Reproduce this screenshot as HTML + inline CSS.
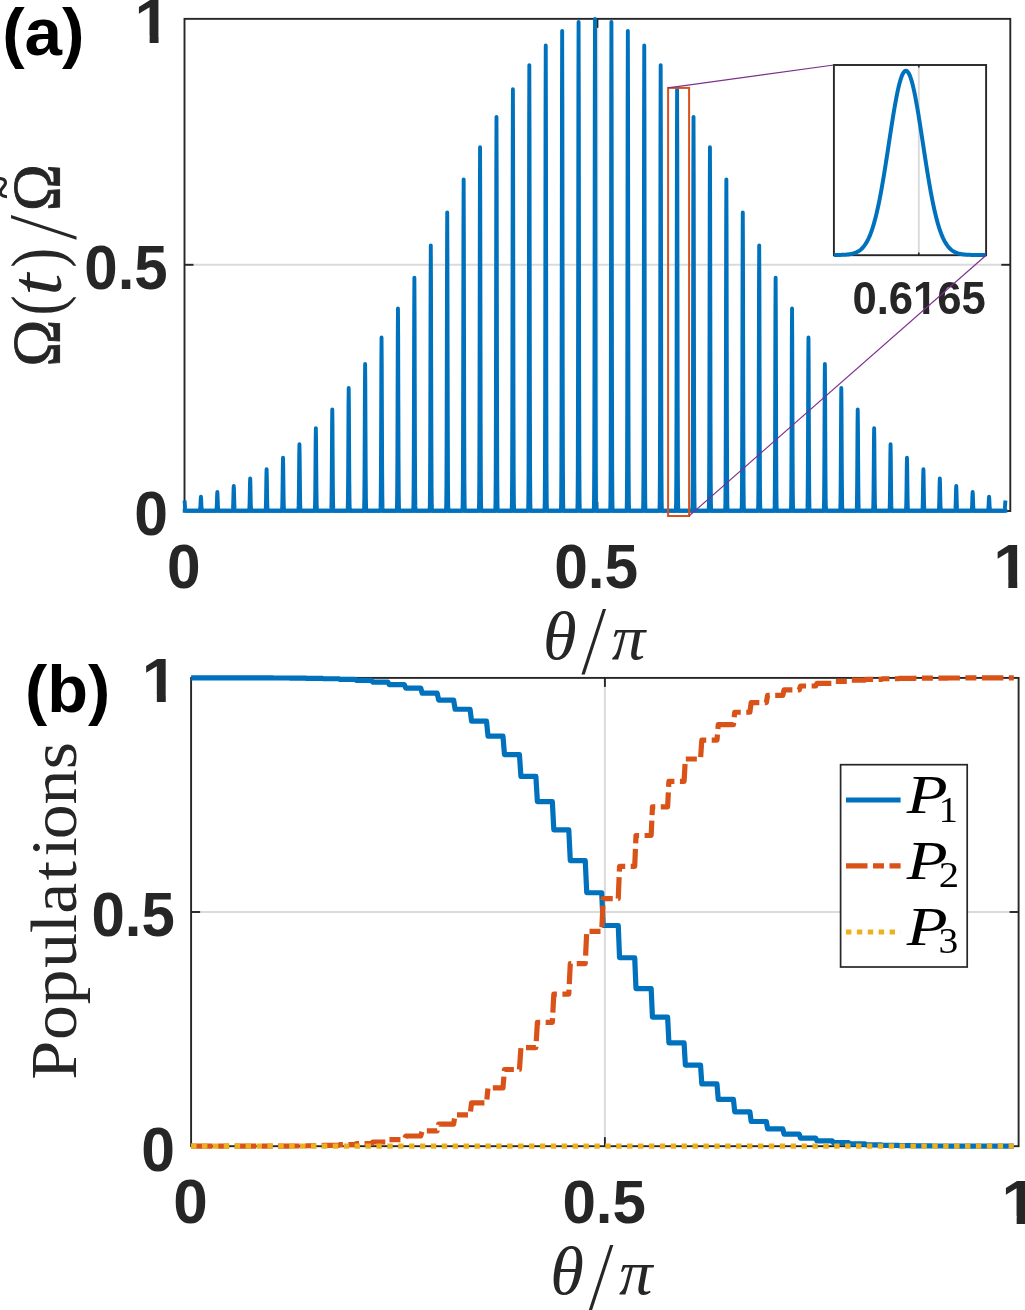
<!DOCTYPE html>
<html><head><meta charset="utf-8"><title>Figure</title>
<style>html,body{margin:0;padding:0;background:#fff}body{width:1025px;height:1310px;position:relative;overflow:hidden}</style>
</head><body>
<svg width="1025" height="1310" viewBox="0 0 1025 1310" style="position:absolute;left:0;top:0">
<title>Pulse train and populations</title>
<desc>(a) Ω(t)/Ω̃ versus θ/π with inset at 0.6165. (b) Populations P1, P2, P3 versus θ/π.</desc>
<rect width="1025" height="1310" fill="#fff"/>
<g stroke="#DADADA" stroke-width="1.9"><line x1="184.5" y1="264.8" x2="1010.3" y2="264.8"/><line x1="597.4" y1="18.85" x2="597.4" y2="511.0"/></g>
<rect x="184.5" y="18.85" width="825.80" height="492.15" fill="none" stroke="#262626" stroke-width="1.9"/>
<g stroke="#262626" stroke-width="1.9">
<line x1="184.5" y1="264.8" x2="193.5" y2="264.8"/><line x1="1010.3" y1="264.8" x2="1001.3" y2="264.8"/>
<line x1="597.4" y1="18.85" x2="597.4" y2="27.85"/><line x1="597.4" y1="511.0" x2="597.4" y2="502.0"/>
</g>
<polyline points="184.50,500.40 184.70,501.89 184.90,505.19 185.10,508.21 185.30,509.92 185.50,510.58 185.70,510.76 185.90,510.79 186.10,510.80 186.30,510.80 186.50,510.80 186.70,510.80 186.90,510.80 198.52,510.80 198.72,510.80 198.92,510.80 199.12,510.80 199.32,510.80 199.52,510.79 199.72,510.75 199.92,510.50 200.12,509.61 200.32,507.29 200.52,503.21 200.72,498.74 200.92,496.73 201.12,498.74 201.32,503.21 201.52,507.29 201.72,509.61 201.92,510.50 202.12,510.75 202.32,510.79 202.52,510.80 202.72,510.80 202.92,510.80 203.12,510.80 203.32,510.80 214.94,510.80 215.14,510.80 215.34,510.80 215.54,510.80 215.74,510.80 215.94,510.79 216.14,510.73 216.34,510.40 216.54,509.21 216.74,506.11 216.94,500.65 217.14,494.68 217.34,491.99 217.54,494.68 217.74,500.65 217.94,506.11 218.14,509.21 218.34,510.40 218.54,510.73 218.74,510.79 218.94,510.80 219.14,510.80 219.34,510.80 219.54,510.80 219.74,510.80 231.36,510.80 231.56,510.80 231.76,510.80 231.96,510.80 232.16,510.80 232.36,510.79 232.56,510.70 232.76,510.28 232.96,508.70 233.16,504.61 233.36,497.41 233.56,489.52 233.76,485.97 233.96,489.52 234.16,497.41 234.36,504.61 234.56,508.70 234.76,510.28 234.96,510.70 235.16,510.79 235.36,510.80 235.56,510.80 235.76,510.80 235.96,510.80 236.16,510.80 247.78,510.80 247.98,510.80 248.18,510.80 248.38,510.80 248.58,510.80 248.78,510.78 248.98,510.67 249.18,510.12 249.38,508.06 249.58,502.73 249.78,493.34 249.98,483.06 250.18,478.43 250.38,483.06 250.58,493.34 250.78,502.73 250.98,508.06 251.18,510.12 251.38,510.67 251.58,510.78 251.78,510.80 251.98,510.80 252.18,510.80 252.38,510.80 252.58,510.80 264.20,510.80 264.40,510.80 264.60,510.80 264.80,510.80 265.00,510.80 265.20,510.78 265.40,510.64 265.60,509.92 265.80,507.27 266.00,500.40 266.20,488.31 266.40,475.07 266.60,469.11 266.80,475.07 267.00,488.31 267.20,500.40 267.40,507.27 267.60,509.92 267.80,510.64 268.00,510.78 268.20,510.80 268.40,510.80 268.60,510.80 268.80,510.80 269.00,510.80 280.62,510.80 280.82,510.80 281.02,510.80 281.22,510.80 281.42,510.80 281.62,510.77 281.82,510.59 282.02,509.68 282.22,506.31 282.42,497.58 282.62,482.19 282.82,465.35 283.02,457.77 283.22,465.35 283.42,482.19 283.62,497.58 283.82,506.31 284.02,509.68 284.22,510.59 284.42,510.77 284.62,510.80 284.82,510.80 285.02,510.80 285.22,510.80 285.42,510.80 297.04,510.80 297.24,510.80 297.44,510.80 297.64,510.80 297.84,510.80 298.04,510.77 298.24,510.54 298.44,509.39 298.64,505.16 298.84,494.18 299.04,474.86 299.24,453.69 299.44,444.17 299.64,453.69 299.84,474.86 300.04,494.18 300.24,505.16 300.44,509.39 300.64,510.54 300.84,510.77 301.04,510.80 301.24,510.80 301.44,510.80 301.64,510.80 301.84,510.80 313.46,510.80 313.66,510.80 313.86,510.80 314.06,510.80 314.26,510.80 314.46,510.76 314.66,510.48 314.86,509.05 315.06,503.80 315.26,490.18 315.46,466.19 315.66,439.93 315.86,428.10 316.06,439.93 316.26,466.19 316.46,490.18 316.66,503.80 316.86,509.05 317.06,510.48 317.26,510.76 317.46,510.80 317.66,510.80 317.86,510.80 318.06,510.80 318.26,510.80 329.88,510.80 330.08,510.80 330.28,510.80 330.48,510.80 330.68,510.79 330.88,510.75 331.08,510.41 331.28,508.66 331.48,502.22 331.68,485.52 331.88,456.12 332.08,423.93 332.28,409.43 332.48,423.93 332.68,456.12 332.88,485.52 333.08,502.22 333.28,508.66 333.48,510.41 333.68,510.75 333.88,510.79 334.08,510.80 334.28,510.80 334.48,510.80 334.68,510.80 346.30,510.80 346.50,510.80 346.70,510.80 346.90,510.80 347.10,510.79 347.30,510.74 347.50,510.33 347.70,508.21 347.90,500.41 348.10,480.19 348.30,444.59 348.50,405.61 348.70,388.06 348.90,405.61 349.10,444.59 349.30,480.19 349.50,500.41 349.70,508.21 349.90,510.33 350.10,510.74 350.30,510.79 350.50,510.80 350.70,510.80 350.90,510.80 351.10,510.80 362.72,510.80 362.92,510.80 363.12,510.80 363.32,510.80 363.52,510.79 363.72,510.72 363.92,510.23 364.12,507.70 364.32,498.37 364.52,474.20 364.72,431.62 364.92,385.00 365.12,364.01 365.32,385.00 365.52,431.62 365.72,474.20 365.92,498.37 366.12,507.70 366.32,510.23 366.52,510.72 366.72,510.79 366.92,510.80 367.12,510.80 367.32,510.80 367.52,510.80 379.14,510.80 379.34,510.80 379.54,510.80 379.74,510.80 379.94,510.79 380.14,510.71 380.34,510.13 380.54,507.14 380.74,496.12 380.94,467.56 381.14,417.27 381.34,362.20 381.54,337.40 381.74,362.20 381.94,417.27 382.14,467.56 382.34,496.12 382.54,507.14 382.74,510.13 382.94,510.71 383.14,510.79 383.34,510.80 383.54,510.80 383.74,510.80 383.94,510.80 395.56,510.80 395.76,510.80 395.96,510.80 396.16,510.80 396.36,510.79 396.56,510.69 396.76,510.02 396.96,506.53 397.16,493.67 397.36,460.35 397.56,401.67 397.76,337.41 397.96,308.48 398.16,337.41 398.36,401.67 398.56,460.35 398.76,493.67 398.96,506.53 399.16,510.02 399.36,510.69 399.56,510.79 399.76,510.80 399.96,510.80 400.16,510.80 400.36,510.80 411.98,510.80 412.18,510.80 412.38,510.80 412.58,510.80 412.78,510.79 412.98,510.68 413.18,509.90 413.38,505.88 413.58,491.06 413.78,452.66 413.98,385.03 414.18,310.97 414.38,277.63 414.58,310.97 414.78,385.03 414.98,452.66 415.18,491.06 415.38,505.88 415.58,509.90 415.78,510.68 415.98,510.79 416.18,510.80 416.38,510.80 416.58,510.80 416.78,510.80 428.40,510.80 428.60,510.80 428.80,510.80 429.00,510.80 429.20,510.79 429.40,510.66 429.60,509.77 429.80,505.20 430.00,488.33 430.20,444.61 430.40,367.63 430.60,283.33 430.80,245.37 431.00,283.33 431.20,367.63 431.40,444.61 431.60,488.33 431.80,505.20 432.00,509.77 432.20,510.66 432.40,510.79 432.60,510.80 432.80,510.80 433.00,510.80 433.20,510.80 444.82,510.80 445.02,510.80 445.22,510.80 445.42,510.80 445.62,510.78 445.82,510.64 446.02,509.65 446.22,504.50 446.42,485.53 446.62,436.38 446.82,349.82 447.02,255.03 447.22,212.35 447.42,255.03 447.62,349.82 447.82,436.38 448.02,485.53 448.22,504.50 448.42,509.65 448.62,510.64 448.82,510.78 449.02,510.80 449.22,510.80 449.42,510.80 449.62,510.80 461.24,510.80 461.44,510.80 461.64,510.80 461.84,510.80 462.04,510.78 462.24,510.63 462.44,509.52 462.64,503.80 462.84,482.74 463.04,428.15 463.24,332.01 463.44,226.75 463.64,179.35 463.84,226.75 464.04,332.01 464.24,428.15 464.44,482.74 464.64,503.80 464.84,509.52 465.04,510.63 465.24,510.78 465.44,510.80 465.64,510.80 465.84,510.80 466.04,510.80 477.66,510.80 477.86,510.80 478.06,510.80 478.26,510.80 478.46,510.78 478.66,510.61 478.86,509.39 479.06,503.12 479.26,480.02 479.46,420.14 479.66,314.68 479.86,199.20 480.06,147.21 480.26,199.20 480.46,314.68 480.66,420.14 480.86,480.02 481.06,503.12 481.26,509.39 481.46,510.61 481.66,510.78 481.86,510.80 482.06,510.80 482.26,510.80 482.46,510.80 494.08,510.80 494.28,510.80 494.48,510.80 494.68,510.80 494.88,510.78 495.08,510.60 495.28,509.28 495.48,502.48 495.68,477.45 495.88,412.57 496.08,298.30 496.28,173.18 496.48,116.84 496.68,173.18 496.88,298.30 497.08,412.57 497.28,477.45 497.48,502.48 497.68,509.28 497.88,510.60 498.08,510.78 498.28,510.80 498.48,510.80 498.68,510.80 498.88,510.80 510.50,510.80 510.70,510.80 510.90,510.80 511.10,510.80 511.30,510.78 511.50,510.58 511.70,509.17 511.90,501.90 512.10,475.11 512.30,405.67 512.50,283.37 512.70,149.47 512.90,89.17 513.10,149.47 513.30,283.37 513.50,405.67 513.70,475.11 513.90,501.90 514.10,509.17 514.30,510.58 514.50,510.78 514.70,510.80 514.90,510.80 515.10,510.80 515.30,510.80 526.92,510.80 527.12,510.80 527.32,510.80 527.52,510.80 527.72,510.78 527.92,510.57 528.12,509.08 528.32,501.39 528.52,473.07 528.72,399.66 528.92,270.38 529.12,128.83 529.32,65.10 529.52,128.83 529.72,270.38 529.92,399.66 530.12,473.07 530.32,501.39 530.52,509.08 530.72,510.57 530.92,510.78 531.12,510.80 531.32,510.80 531.52,510.80 531.72,510.80 543.34,510.80 543.54,510.80 543.74,510.80 543.94,510.80 544.14,510.78 544.34,510.56 544.54,509.00 544.74,500.98 544.94,471.40 545.14,394.76 545.34,259.77 545.54,111.97 545.74,45.42 545.94,111.97 546.14,259.77 546.34,394.76 546.54,471.40 546.74,500.98 546.94,509.00 547.14,510.56 547.34,510.78 547.54,510.80 547.74,510.80 547.94,510.80 548.14,510.80 559.76,510.80 559.96,510.80 560.16,510.80 560.36,510.80 560.56,510.78 560.76,510.55 560.96,508.94 561.16,500.67 561.36,470.17 561.56,391.12 561.76,251.91 561.96,99.48 562.16,30.84 562.36,99.48 562.56,251.91 562.76,391.12 562.96,470.17 563.16,500.67 563.36,508.94 563.56,510.55 563.76,510.78 563.96,510.80 564.16,510.80 564.36,510.80 564.56,510.80 576.18,510.80 576.38,510.80 576.58,510.80 576.78,510.80 576.98,510.77 577.18,510.55 577.38,508.91 577.58,500.48 577.78,469.41 577.98,388.89 578.18,247.07 578.38,91.79 578.58,21.88 578.78,91.79 578.98,247.07 579.18,388.89 579.38,469.41 579.58,500.48 579.78,508.91 579.98,510.55 580.18,510.77 580.38,510.80 580.58,510.80 580.78,510.80 580.98,510.80 592.60,510.80 592.80,510.80 593.00,510.80 593.20,510.80 593.40,510.77 593.60,510.54 593.80,508.90 594.00,500.42 594.20,469.15 594.40,388.13 594.60,245.44 594.80,89.20 595.00,18.85 595.20,89.20 595.40,245.44 595.60,388.13 595.80,469.15 596.00,500.42 596.20,508.90 596.40,510.54 596.60,510.77 596.80,510.80 597.00,510.80 597.20,510.80 597.40,510.80 609.02,510.80 609.22,510.80 609.42,510.80 609.62,510.80 609.82,510.77 610.02,510.55 610.22,508.91 610.42,500.48 610.62,469.41 610.82,388.89 611.02,247.07 611.22,91.79 611.42,21.88 611.62,91.79 611.82,247.07 612.02,388.89 612.22,469.41 612.42,500.48 612.62,508.91 612.82,510.55 613.02,510.77 613.22,510.80 613.42,510.80 613.62,510.80 613.82,510.80 625.44,510.80 625.64,510.80 625.84,510.80 626.04,510.80 626.24,510.78 626.44,510.55 626.64,508.94 626.84,500.67 627.04,470.17 627.24,391.12 627.44,251.91 627.64,99.48 627.84,30.84 628.04,99.48 628.24,251.91 628.44,391.12 628.64,470.17 628.84,500.67 629.04,508.94 629.24,510.55 629.44,510.78 629.64,510.80 629.84,510.80 630.04,510.80 630.24,510.80 641.86,510.80 642.06,510.80 642.26,510.80 642.46,510.80 642.66,510.78 642.86,510.56 643.06,509.00 643.26,500.98 643.46,471.40 643.66,394.76 643.86,259.77 644.06,111.97 644.26,45.42 644.46,111.97 644.66,259.77 644.86,394.76 645.06,471.40 645.26,500.98 645.46,509.00 645.66,510.56 645.86,510.78 646.06,510.80 646.26,510.80 646.46,510.80 646.66,510.80 658.28,510.80 658.48,510.80 658.68,510.80 658.88,510.80 659.08,510.78 659.28,510.57 659.48,509.08 659.68,501.39 659.88,473.07 660.08,399.66 660.28,270.38 660.48,128.83 660.68,65.10 660.88,128.83 661.08,270.38 661.28,399.66 661.48,473.07 661.68,501.39 661.88,509.08 662.08,510.57 662.28,510.78 662.48,510.80 662.68,510.80 662.88,510.80 663.08,510.80 674.70,510.80 674.90,510.80 675.10,510.80 675.30,510.80 675.50,510.78 675.70,510.58 675.90,509.17 676.10,501.90 676.30,475.11 676.50,405.67 676.70,283.37 676.90,149.47 677.10,89.17 677.30,149.47 677.50,283.37 677.70,405.67 677.90,475.11 678.10,501.90 678.30,509.17 678.50,510.58 678.70,510.78 678.90,510.80 679.10,510.80 679.30,510.80 679.50,510.80 691.12,510.80 691.32,510.80 691.52,510.80 691.72,510.80 691.92,510.78 692.12,510.60 692.32,509.28 692.52,502.48 692.72,477.45 692.92,412.57 693.12,298.30 693.32,173.18 693.52,116.84 693.72,173.18 693.92,298.30 694.12,412.57 694.32,477.45 694.52,502.48 694.72,509.28 694.92,510.60 695.12,510.78 695.32,510.80 695.52,510.80 695.72,510.80 695.92,510.80 707.54,510.80 707.74,510.80 707.94,510.80 708.14,510.80 708.34,510.78 708.54,510.61 708.74,509.39 708.94,503.12 709.14,480.02 709.34,420.14 709.54,314.68 709.74,199.20 709.94,147.21 710.14,199.20 710.34,314.68 710.54,420.14 710.74,480.02 710.94,503.12 711.14,509.39 711.34,510.61 711.54,510.78 711.74,510.80 711.94,510.80 712.14,510.80 712.34,510.80 723.96,510.80 724.16,510.80 724.36,510.80 724.56,510.80 724.76,510.78 724.96,510.63 725.16,509.52 725.36,503.80 725.56,482.74 725.76,428.15 725.96,332.01 726.16,226.75 726.36,179.35 726.56,226.75 726.76,332.01 726.96,428.15 727.16,482.74 727.36,503.80 727.56,509.52 727.76,510.63 727.96,510.78 728.16,510.80 728.36,510.80 728.56,510.80 728.76,510.80 740.38,510.80 740.58,510.80 740.78,510.80 740.98,510.80 741.18,510.78 741.38,510.64 741.58,509.65 741.78,504.50 741.98,485.53 742.18,436.38 742.38,349.82 742.58,255.03 742.78,212.35 742.98,255.03 743.18,349.82 743.38,436.38 743.58,485.53 743.78,504.50 743.98,509.65 744.18,510.64 744.38,510.78 744.58,510.80 744.78,510.80 744.98,510.80 745.18,510.80 756.80,510.80 757.00,510.80 757.20,510.80 757.40,510.80 757.60,510.79 757.80,510.66 758.00,509.77 758.20,505.20 758.40,488.33 758.60,444.61 758.80,367.63 759.00,283.33 759.20,245.37 759.40,283.33 759.60,367.63 759.80,444.61 760.00,488.33 760.20,505.20 760.40,509.77 760.60,510.66 760.80,510.79 761.00,510.80 761.20,510.80 761.40,510.80 761.60,510.80 773.22,510.80 773.42,510.80 773.62,510.80 773.82,510.80 774.02,510.79 774.22,510.68 774.42,509.90 774.62,505.88 774.82,491.06 775.02,452.66 775.22,385.03 775.42,310.97 775.62,277.63 775.82,310.97 776.02,385.03 776.22,452.66 776.42,491.06 776.62,505.88 776.82,509.90 777.02,510.68 777.22,510.79 777.42,510.80 777.62,510.80 777.82,510.80 778.02,510.80 789.64,510.80 789.84,510.80 790.04,510.80 790.24,510.80 790.44,510.79 790.64,510.69 790.84,510.02 791.04,506.53 791.24,493.67 791.44,460.35 791.64,401.67 791.84,337.41 792.04,308.48 792.24,337.41 792.44,401.67 792.64,460.35 792.84,493.67 793.04,506.53 793.24,510.02 793.44,510.69 793.64,510.79 793.84,510.80 794.04,510.80 794.24,510.80 794.44,510.80 806.06,510.80 806.26,510.80 806.46,510.80 806.66,510.80 806.86,510.79 807.06,510.71 807.26,510.13 807.46,507.14 807.66,496.12 807.86,467.56 808.06,417.27 808.26,362.20 808.46,337.40 808.66,362.20 808.86,417.27 809.06,467.56 809.26,496.12 809.46,507.14 809.66,510.13 809.86,510.71 810.06,510.79 810.26,510.80 810.46,510.80 810.66,510.80 810.86,510.80 822.48,510.80 822.68,510.80 822.88,510.80 823.08,510.80 823.28,510.79 823.48,510.72 823.68,510.23 823.88,507.70 824.08,498.37 824.28,474.20 824.48,431.62 824.68,385.00 824.88,364.01 825.08,385.00 825.28,431.62 825.48,474.20 825.68,498.37 825.88,507.70 826.08,510.23 826.28,510.72 826.48,510.79 826.68,510.80 826.88,510.80 827.08,510.80 827.28,510.80 838.90,510.80 839.10,510.80 839.30,510.80 839.50,510.80 839.70,510.79 839.90,510.74 840.10,510.33 840.30,508.21 840.50,500.41 840.70,480.19 840.90,444.59 841.10,405.61 841.30,388.06 841.50,405.61 841.70,444.59 841.90,480.19 842.10,500.41 842.30,508.21 842.50,510.33 842.70,510.74 842.90,510.79 843.10,510.80 843.30,510.80 843.50,510.80 843.70,510.80 855.32,510.80 855.52,510.80 855.72,510.80 855.92,510.80 856.12,510.79 856.32,510.75 856.52,510.41 856.72,508.66 856.92,502.22 857.12,485.52 857.32,456.12 857.52,423.93 857.72,409.43 857.92,423.93 858.12,456.12 858.32,485.52 858.52,502.22 858.72,508.66 858.92,510.41 859.12,510.75 859.32,510.79 859.52,510.80 859.72,510.80 859.92,510.80 860.12,510.80 871.74,510.80 871.94,510.80 872.14,510.80 872.34,510.80 872.54,510.80 872.74,510.76 872.94,510.48 873.14,509.05 873.34,503.80 873.54,490.18 873.74,466.19 873.94,439.93 874.14,428.10 874.34,439.93 874.54,466.19 874.74,490.18 874.94,503.80 875.14,509.05 875.34,510.48 875.54,510.76 875.74,510.80 875.94,510.80 876.14,510.80 876.34,510.80 876.54,510.80 888.16,510.80 888.36,510.80 888.56,510.80 888.76,510.80 888.96,510.80 889.16,510.77 889.36,510.54 889.56,509.39 889.76,505.16 889.96,494.18 890.16,474.86 890.36,453.69 890.56,444.17 890.76,453.69 890.96,474.86 891.16,494.18 891.36,505.16 891.56,509.39 891.76,510.54 891.96,510.77 892.16,510.80 892.36,510.80 892.56,510.80 892.76,510.80 892.96,510.80 904.58,510.80 904.78,510.80 904.98,510.80 905.18,510.80 905.38,510.80 905.58,510.77 905.78,510.59 905.98,509.68 906.18,506.31 906.38,497.58 906.58,482.19 906.78,465.35 906.98,457.77 907.18,465.35 907.38,482.19 907.58,497.58 907.78,506.31 907.98,509.68 908.18,510.59 908.38,510.77 908.58,510.80 908.78,510.80 908.98,510.80 909.18,510.80 909.38,510.80 921.00,510.80 921.20,510.80 921.40,510.80 921.60,510.80 921.80,510.80 922.00,510.78 922.20,510.64 922.40,509.92 922.60,507.27 922.80,500.40 923.00,488.31 923.20,475.07 923.40,469.11 923.60,475.07 923.80,488.31 924.00,500.40 924.20,507.27 924.40,509.92 924.60,510.64 924.80,510.78 925.00,510.80 925.20,510.80 925.40,510.80 925.60,510.80 925.80,510.80 937.42,510.80 937.62,510.80 937.82,510.80 938.02,510.80 938.22,510.80 938.42,510.78 938.62,510.67 938.82,510.12 939.02,508.06 939.22,502.73 939.42,493.34 939.62,483.06 939.82,478.43 940.02,483.06 940.22,493.34 940.42,502.73 940.62,508.06 940.82,510.12 941.02,510.67 941.22,510.78 941.42,510.80 941.62,510.80 941.82,510.80 942.02,510.80 942.22,510.80 953.84,510.80 954.04,510.80 954.24,510.80 954.44,510.80 954.64,510.80 954.84,510.79 955.04,510.70 955.24,510.28 955.44,508.70 955.64,504.61 955.84,497.41 956.04,489.52 956.24,485.97 956.44,489.52 956.64,497.41 956.84,504.61 957.04,508.70 957.24,510.28 957.44,510.70 957.64,510.79 957.84,510.80 958.04,510.80 958.24,510.80 958.44,510.80 958.64,510.80 970.26,510.80 970.46,510.80 970.66,510.80 970.86,510.80 971.06,510.80 971.26,510.79 971.46,510.73 971.66,510.40 971.86,509.21 972.06,506.11 972.26,500.65 972.46,494.68 972.66,491.99 972.86,494.68 973.06,500.65 973.26,506.11 973.46,509.21 973.66,510.40 973.86,510.73 974.06,510.79 974.26,510.80 974.46,510.80 974.66,510.80 974.86,510.80 975.06,510.80 986.68,510.80 986.88,510.80 987.08,510.80 987.28,510.80 987.48,510.80 987.68,510.79 987.88,510.75 988.08,510.50 988.28,509.61 988.48,507.29 988.68,503.21 988.88,498.74 989.08,496.73 989.28,498.74 989.48,503.21 989.68,507.29 989.88,509.61 990.08,510.50 990.28,510.75 990.48,510.79 990.68,510.80 990.88,510.80 991.08,510.80 991.28,510.80 991.48,510.80 1003.10,510.80 1003.30,510.80 1003.50,510.80 1003.70,510.80 1003.90,510.80 1004.10,510.79 1004.30,510.76 1004.50,510.58 1004.70,509.92 1004.90,508.21 1005.10,505.19 1005.30,501.89 1005.50,500.40" fill="none" stroke="#0072BD" stroke-width="3.9" stroke-linejoin="round"/>
<line x1="182.75" y1="510.8" x2="1007.25" y2="510.8" stroke="#0072BD" stroke-width="3.9"/>
<rect x="668.1" y="87.9" width="21.0" height="428.1" fill="none" stroke="#D95319" stroke-width="2"/>
<rect x="833.9" y="65.0" width="152.20" height="190.20" fill="#fff"/>
<line x1="918.8" y1="65.0" x2="918.8" y2="255.2" stroke="#DADADA" stroke-width="1.9"/>
<rect x="833.9" y="65.0" width="152.20" height="190.20" fill="none" stroke="#262626" stroke-width="1.9"/>
<g stroke="#262626" stroke-width="1.6"><line x1="918.8" y1="255.2" x2="918.8" y2="252.6"/><line x1="918.8" y1="65.0" x2="918.8" y2="67.6"/></g>
<polyline points="833.90,254.98 834.40,254.97 834.90,254.97 835.40,254.97 835.90,254.96 836.40,254.96 836.90,254.95 837.40,254.95 837.90,254.94 838.40,254.93 838.90,254.92 839.40,254.91 839.90,254.90 840.40,254.89 840.90,254.88 841.40,254.86 841.90,254.85 842.40,254.83 842.90,254.81 843.40,254.79 843.90,254.76 844.40,254.73 844.90,254.71 845.40,254.67 845.90,254.64 846.40,254.60 846.90,254.55 847.40,254.51 847.90,254.45 848.40,254.40 848.90,254.33 849.40,254.26 849.90,254.19 850.40,254.11 850.90,254.02 851.40,253.92 851.90,253.81 852.40,253.70 852.90,253.57 853.40,253.44 853.90,253.29 854.40,253.13 854.90,252.95 855.40,252.77 855.90,252.56 856.40,252.34 856.90,252.11 857.40,251.85 857.90,251.58 858.40,251.28 858.90,250.97 859.40,250.63 859.90,250.26 860.40,249.87 860.90,249.46 861.40,249.01 861.90,248.53 862.40,248.03 862.90,247.48 863.40,246.91 863.90,246.29 864.40,245.64 864.90,244.95 865.40,244.21 865.90,243.44 866.40,242.61 866.90,241.74 867.40,240.82 867.90,239.85 868.40,238.83 868.90,237.76 869.40,236.62 869.90,235.43 870.40,234.19 870.90,232.88 871.40,231.51 871.90,230.07 872.40,228.57 872.90,227.01 873.40,225.38 873.90,223.68 874.40,221.91 874.90,220.07 875.40,218.16 875.90,216.18 876.40,214.13 876.90,212.01 877.40,209.82 877.90,207.55 878.40,205.22 878.90,202.82 879.40,200.34 879.90,197.80 880.40,195.20 880.90,192.53 881.40,189.80 881.90,187.00 882.40,184.15 882.90,181.24 883.40,178.28 883.90,175.27 884.40,172.21 884.90,169.11 885.40,165.97 885.90,162.80 886.40,159.59 886.90,156.36 887.40,153.11 887.90,149.84 888.40,146.56 888.90,143.28 889.40,139.99 889.90,136.71 890.40,133.45 890.90,130.20 891.40,126.97 891.90,123.77 892.40,120.61 892.90,117.50 893.40,114.43 893.90,111.42 894.40,108.47 894.90,105.59 895.40,102.79 895.90,100.06 896.40,97.43 896.90,94.89 897.40,92.44 897.90,90.11 898.40,87.88 898.90,85.77 899.40,83.78 899.90,81.92 900.40,80.19 900.90,78.60 901.40,77.14 901.90,75.83 902.40,74.66 902.90,73.65 903.40,72.78 903.90,72.07 904.40,71.52 904.90,71.12 905.40,70.88 905.90,70.80 906.40,70.88 906.90,71.12 907.40,71.52 907.90,72.07 908.40,72.78 908.90,73.65 909.40,74.66 909.90,75.83 910.40,77.14 910.90,78.60 911.40,80.19 911.90,81.92 912.40,83.78 912.90,85.77 913.40,87.88 913.90,90.11 914.40,92.44 914.90,94.89 915.40,97.43 915.90,100.06 916.40,102.79 916.90,105.59 917.40,108.47 917.90,111.42 918.40,114.43 918.90,117.50 919.40,120.61 919.90,123.77 920.40,126.97 920.90,130.20 921.40,133.45 921.90,136.71 922.40,139.99 922.90,143.28 923.40,146.56 923.90,149.84 924.40,153.11 924.90,156.36 925.40,159.59 925.90,162.80 926.40,165.97 926.90,169.11 927.40,172.21 927.90,175.27 928.40,178.28 928.90,181.24 929.40,184.15 929.90,187.00 930.40,189.80 930.90,192.53 931.40,195.20 931.90,197.80 932.40,200.34 932.90,202.82 933.40,205.22 933.90,207.55 934.40,209.82 934.90,212.01 935.40,214.13 935.90,216.18 936.40,218.16 936.90,220.07 937.40,221.91 937.90,223.68 938.40,225.38 938.90,227.01 939.40,228.57 939.90,230.07 940.40,231.51 940.90,232.88 941.40,234.19 941.90,235.43 942.40,236.62 942.90,237.76 943.40,238.83 943.90,239.85 944.40,240.82 944.90,241.74 945.40,242.61 945.90,243.44 946.40,244.21 946.90,244.95 947.40,245.64 947.90,246.29 948.40,246.91 948.90,247.48 949.40,248.03 949.90,248.53 950.40,249.01 950.90,249.46 951.40,249.87 951.90,250.26 952.40,250.63 952.90,250.97 953.40,251.28 953.90,251.58 954.40,251.85 954.90,252.11 955.40,252.34 955.90,252.56 956.40,252.77 956.90,252.95 957.40,253.13 957.90,253.29 958.40,253.44 958.90,253.57 959.40,253.70 959.90,253.81 960.40,253.92 960.90,254.02 961.40,254.11 961.90,254.19 962.40,254.26 962.90,254.33 963.40,254.40 963.90,254.45 964.40,254.51 964.90,254.55 965.40,254.60 965.90,254.64 966.40,254.67 966.90,254.71 967.40,254.73 967.90,254.76 968.40,254.79 968.90,254.81 969.40,254.83 969.90,254.85 970.40,254.86 970.90,254.88 971.40,254.89 971.90,254.90 972.40,254.91 972.90,254.92 973.40,254.93 973.90,254.94 974.40,254.95 974.90,254.95 975.40,254.96 975.90,254.96 976.40,254.97 976.90,254.97 977.40,254.97 977.90,254.98 978.40,254.98 978.90,254.98 979.40,254.98 979.90,254.99 980.40,254.99 980.90,254.99 981.40,254.99 981.90,254.99 982.40,254.99 982.90,254.99 983.40,254.99 983.90,255.00 984.40,255.00 984.90,255.00 985.40,255.00 985.90,255.00" fill="none" stroke="#0072BD" stroke-width="4.0" stroke-linejoin="round"/>
<g stroke="#DADADA" stroke-width="1.9"><line x1="191.1" y1="912.0" x2="1018.6" y2="912.0"/><line x1="604.9" y1="677.9" x2="604.9" y2="1146.2"/></g>
<rect x="191.1" y="677.9" width="827.50" height="468.30" fill="none" stroke="#262626" stroke-width="1.9"/>
<g stroke="#262626" stroke-width="1.9">
<line x1="191.1" y1="912.0" x2="200.1" y2="912.0"/><line x1="1018.6" y1="912.0" x2="1009.6" y2="912.0"/>
<line x1="604.9" y1="677.9" x2="604.9" y2="686.9"/><line x1="604.9" y1="1146.2" x2="604.9" y2="1137.2"/>
</g>
<polyline points="191.10,677.90 206.80,677.90 208.30,677.90 223.26,677.90 224.76,677.90 239.71,677.90 241.21,677.90 256.17,677.90 257.67,677.92 272.62,677.92 274.12,677.98 289.07,677.98 290.57,678.10 305.53,678.10 307.03,678.33 321.98,678.33 323.48,678.73 338.43,678.73 339.93,679.39 354.89,679.39 356.39,680.45 371.34,680.45 372.84,682.09 387.80,682.09 389.30,684.55 404.25,684.55 405.75,688.11 420.70,688.11 422.20,693.14 437.16,693.14 438.66,700.04 453.61,700.04 455.11,709.23 470.06,709.23 471.56,721.16 486.52,721.16 488.02,736.18 502.97,736.18 504.47,754.58 519.43,754.58 520.93,776.46 535.88,776.46 537.38,801.69 552.33,801.69 553.83,829.93 568.79,829.93 570.29,860.55 585.24,860.55 586.74,892.73 601.70,892.73 603.20,925.48 618.26,925.48 619.54,957.77 634.72,957.77 635.99,988.62 651.17,988.62 652.44,1017.17 667.62,1017.17 668.90,1042.79 684.08,1042.79 685.35,1065.10 700.53,1065.10 701.81,1083.97 716.98,1083.97 718.26,1099.47 733.44,1099.47 734.71,1111.85 749.89,1111.85 751.17,1121.49 766.35,1121.49 767.62,1128.79 782.80,1128.79 784.07,1134.19 799.25,1134.19 800.53,1138.08 815.71,1138.08 816.98,1140.82 832.16,1140.82 833.44,1142.71 848.61,1142.71 849.89,1143.97 865.07,1143.97 866.34,1144.81 881.52,1144.81 882.80,1145.34 897.98,1145.34 899.25,1145.68 914.43,1145.68 915.70,1145.89 930.88,1145.89 932.16,1146.02 947.34,1146.02 948.61,1146.09 963.79,1146.09 965.07,1146.14 980.25,1146.14 981.52,1146.16 996.70,1146.16 997.97,1146.18 1013.79,1146.18" fill="none" stroke="#0072BD" stroke-width="5.2" stroke-linejoin="round"/>
<polyline points="191.10,1146.20 206.80,1146.20 208.30,1146.20 223.26,1146.20 224.76,1146.20 239.71,1146.20 241.21,1146.20 256.17,1146.20 257.67,1146.18 272.62,1146.18 274.12,1146.12 289.07,1146.12 290.57,1146.00 305.53,1146.00 307.03,1145.77 321.98,1145.77 323.48,1145.37 338.43,1145.37 339.93,1144.71 354.89,1144.71 356.39,1143.65 371.34,1143.65 372.84,1142.01 387.80,1142.01 389.30,1139.55 404.25,1139.55 405.75,1135.99 420.70,1135.99 422.20,1130.96 437.16,1130.96 438.66,1124.06 453.61,1124.06 455.11,1114.87 470.06,1114.87 471.56,1102.94 486.52,1102.94 488.02,1087.92 502.97,1087.92 504.47,1069.52 519.43,1069.52 520.93,1047.64 535.88,1047.64 537.38,1022.41 552.33,1022.41 553.83,994.17 568.79,994.17 570.29,963.55 585.24,963.55 586.74,931.37 601.70,931.37 603.20,898.62 618.26,898.62 619.54,866.33 634.72,866.33 635.99,835.48 651.17,835.48 652.44,806.93 667.62,806.93 668.90,781.31 684.08,781.31 685.35,759.00 700.53,759.00 701.81,740.13 716.98,740.13 718.26,724.63 733.44,724.63 734.71,712.25 749.89,712.25 751.17,702.61 766.35,702.61 767.62,695.31 782.80,695.31 784.07,689.91 799.25,689.91 800.53,686.02 815.71,686.02 816.98,683.28 832.16,683.28 833.44,681.39 848.61,681.39 849.89,680.13 865.07,680.13 866.34,679.29 881.52,679.29 882.80,678.76 897.98,678.76 899.25,678.42 914.43,678.42 915.70,678.21 930.88,678.21 932.16,678.08 947.34,678.08 948.61,678.01 963.79,678.01 965.07,677.96 980.25,677.96 981.52,677.94 996.70,677.94 997.97,677.92 1013.79,677.92" fill="none" stroke="#D95319" stroke-width="5.2" stroke-dasharray="21.5 5.5 11 5.5" stroke-linejoin="round"/>
<line x1="191.1" y1="1146.2" x2="1013.79" y2="1146.2" stroke="#EDB120" stroke-width="5.2" stroke-dasharray="5.4 5.5"/>
<rect x="840.6" y="764.7" width="126.60" height="202.30" fill="#fff" stroke="#262626" stroke-width="1.7"/>
<line x1="846" y1="800" x2="900.6" y2="800" stroke="#0072BD" stroke-width="5.2"/>
<line x1="846" y1="865.9" x2="900.6" y2="865.9" stroke="#D95319" stroke-width="5.2" stroke-dasharray="21.5 5.5 11 5.5"/>
<line x1="846" y1="932" x2="900.6" y2="932" stroke="#EDB120" stroke-width="5.2" stroke-dasharray="5.4 5.5"/>
<text transform="translate(906.73,813.00) scale(1.2114,1.0000)" font-family="Liberation Serif, serif" font-style="italic" font-weight="normal" font-size="55.27" fill="#000">P</text>
<text transform="translate(938.85,821.70) scale(1.0576,1.0000)" font-family="Liberation Serif, serif" font-style="normal" font-weight="normal" font-size="36.21" fill="#000">1</text>
<text transform="translate(906.73,879.00) scale(1.2249,1.0000)" font-family="Liberation Serif, serif" font-style="italic" font-weight="normal" font-size="54.66" fill="#000">P</text>
<text transform="translate(938.67,887.20) scale(1.1296,1.0000)" font-family="Liberation Serif, serif" font-style="normal" font-weight="normal" font-size="36.08" fill="#000">2</text>
<text transform="translate(906.73,944.80) scale(1.2147,1.0000)" font-family="Liberation Serif, serif" font-style="italic" font-weight="normal" font-size="55.11" fill="#000">P</text>
<text transform="translate(938.62,953.24) scale(1.0891,1.0000)" font-family="Liberation Serif, serif" font-style="normal" font-weight="normal" font-size="36.28" fill="#000">3</text>
<clipPath id="c1_1"><rect x="137.00" y="-2.90" width="22.10" height="38.59"/><rect x="149.65" y="34.69" width="8.90" height="10.31"/></clipPath><g clip-path="url(#c1_1)"><text transform="translate(134.59,43.00) scale(1.0113,1)" font-family="Liberation Sans, sans-serif" font-weight="bold" font-size="63.81" fill="#262626">1</text></g>
<text transform="translate(84.30,289.37) scale(0.9545,1.0000)" font-family="Liberation Sans, sans-serif" font-style="normal" font-weight="bold" font-size="62.90" fill="#262626">0.5</text>
<text transform="translate(134.37,535.17) scale(0.9618,1.0000)" font-family="Liberation Sans, sans-serif" font-style="normal" font-weight="bold" font-size="63.04" fill="#262626">0</text>
<text transform="translate(166.88,587.87) scale(0.9585,1.0000)" font-family="Liberation Sans, sans-serif" font-style="normal" font-weight="bold" font-size="63.04" fill="#262626">0</text>
<text transform="translate(554.18,588.07) scale(0.9661,1.0000)" font-family="Liberation Sans, sans-serif" font-style="normal" font-weight="bold" font-size="62.61" fill="#262626">0.5</text>
<clipPath id="c1_2"><rect x="995.70" y="542.10" width="22.10" height="38.59"/><rect x="1008.35" y="579.69" width="8.90" height="10.31"/></clipPath><g clip-path="url(#c1_2)"><text transform="translate(993.29,588.00) scale(1.0113,1)" font-family="Liberation Sans, sans-serif" font-weight="bold" font-size="63.81" fill="#262626">1</text></g>
<clipPath id="c1_3"><rect x="144.20" y="656.30" width="22.10" height="38.59"/><rect x="156.85" y="693.89" width="8.90" height="10.31"/></clipPath><g clip-path="url(#c1_3)"><text transform="translate(141.79,702.20) scale(1.0113,1)" font-family="Liberation Sans, sans-serif" font-weight="bold" font-size="63.81" fill="#262626">1</text></g>
<text transform="translate(91.40,936.37) scale(0.9491,1.0000)" font-family="Liberation Sans, sans-serif" font-style="normal" font-weight="bold" font-size="63.18" fill="#262626">0.5</text>
<text transform="translate(141.27,1170.77) scale(0.9597,1.0000)" font-family="Liberation Sans, sans-serif" font-style="normal" font-weight="bold" font-size="63.18" fill="#262626">0</text>
<text transform="translate(173.22,1223.47) scale(0.9874,1.0000)" font-family="Liberation Sans, sans-serif" font-style="normal" font-weight="bold" font-size="62.90" fill="#262626">0</text>
<text transform="translate(562.40,1222.99) scale(0.9800,1.0000)" font-family="Liberation Sans, sans-serif" font-style="normal" font-weight="bold" font-size="61.34" fill="#262626">0.5</text>
<clipPath id="c1_4"><rect x="1004.00" y="1177.70" width="22.10" height="38.59"/><rect x="1016.65" y="1215.29" width="8.90" height="10.31"/></clipPath><g clip-path="url(#c1_4)"><text transform="translate(1001.59,1223.60) scale(1.0113,1)" font-family="Liberation Sans, sans-serif" font-weight="bold" font-size="63.81" fill="#262626">1</text></g>
<clipPath id="c6165"><path d="M849.2,276.9H989.6V319.0H849.2ZM914.38,308.22H923.26V315.55H914.38ZM929.24,308.22H937.50V315.55H929.24Z" clip-rule="evenodd"/></clipPath><g clip-path="url(#c6165)"><text transform="translate(852.46,313.55) scale(0.9612,1)" font-family="Liberation Sans, sans-serif" font-weight="bold" font-size="45.37" fill="#262626">0.6165</text></g>
<g stroke="#7E2F8E" stroke-width="1.15"><line x1="668.1" y1="87.9" x2="833.9" y2="65.0"/><line x1="689.3" y1="515.8" x2="986.1" y2="255.2"/></g>
<text transform="translate(2.13,54.79) scale(1.0062,1.0000)" font-family="Liberation Sans, sans-serif" font-style="normal" font-weight="bold" font-size="67.02" fill="#000">(a)</text>
<text transform="translate(24.96,712.08) scale(1.0023,1.0000)" font-family="Liberation Sans, sans-serif" font-style="normal" font-weight="bold" font-size="66.60" fill="#000">(b)</text>
<g>
<text transform="translate(542.97,658.83) scale(1.0175,1.0000)" font-family="Liberation Serif, serif" font-style="italic" font-weight="normal" font-size="67.32" fill="#262626">θ</text>
<text transform="translate(584.27,673.33) scale(0.6334,1.0000)" font-family="Liberation Serif, serif" font-style="italic" font-weight="normal" font-size="97.31" fill="#262626">/</text>
<text transform="translate(611.66,658.87) scale(1.0575,1.0000)" font-family="Liberation Serif, serif" font-style="italic" font-weight="normal" font-size="63.40" fill="#262626">π</text>
</g>
<g>
<text transform="translate(550.27,1294.13) scale(1.0175,1.0000)" font-family="Liberation Serif, serif" font-style="italic" font-weight="normal" font-size="67.32" fill="#262626">θ</text>
<text transform="translate(591.57,1308.63) scale(0.6334,1.0000)" font-family="Liberation Serif, serif" font-style="italic" font-weight="normal" font-size="97.31" fill="#262626">/</text>
<text transform="translate(618.96,1294.17) scale(1.0575,1.0000)" font-family="Liberation Serif, serif" font-style="italic" font-weight="normal" font-size="63.40" fill="#262626">π</text>
</g>
<g transform="rotate(-90)"><text stroke="#262626" stroke-width="0.9" transform="translate(-366.51,59.00) scale(0.9189,1.0000)" font-family="Liberation Serif, serif" font-style="normal" font-weight="normal" font-size="68.53" fill="#262626">Ω</text></g>
<g transform="rotate(-90)"><text transform="translate(-315.42,61.09) scale(0.8383,1.0000)" font-family="Liberation Serif, serif" font-style="normal" font-weight="normal" font-size="72.04" fill="#262626">(</text></g>
<g transform="rotate(-90)"><text transform="translate(-295.58,60.76) scale(1.0748,1.0000)" font-family="Liberation Serif, serif" font-style="italic" font-weight="normal" font-size="74.06" fill="#262626">t</text></g>
<g transform="rotate(-90)"><text transform="translate(-267.63,61.09) scale(0.8247,1.0000)" font-family="Liberation Serif, serif" font-style="normal" font-weight="normal" font-size="72.04" fill="#262626">)</text></g>
<g transform="rotate(-90)"><text transform="translate(-237.12,75.43) scale(0.6360,1.0000)" font-family="Liberation Serif, serif" font-style="italic" font-weight="normal" font-size="97.31" fill="#262626">/</text></g>
<g transform="rotate(-90)"><text stroke="#262626" stroke-width="0.9" transform="translate(-211.01,59.00) scale(0.9189,1.0000)" font-family="Liberation Serif, serif" font-style="normal" font-weight="normal" font-size="68.53" fill="#262626">Ω</text></g>
<g transform="rotate(-90)"><text transform="translate(-198.52,16.70) scale(0.9618,1.0000)" font-family="Liberation Serif, serif" font-style="normal" font-weight="bold" font-size="44.27" fill="#262626">~</text></g>
<text transform="rotate(-90) translate(0,75.7) scale(1.0608,1)" x="-1017.88 -980.43 -946.99 -912.63 -879.76 -861.30 -830.01 -807.73 -791.19 -758.40 -725.24" y="0" font-family="Liberation Serif, serif" font-size="66.0" fill="#262626">Populations</text>
</svg>
</body></html>
